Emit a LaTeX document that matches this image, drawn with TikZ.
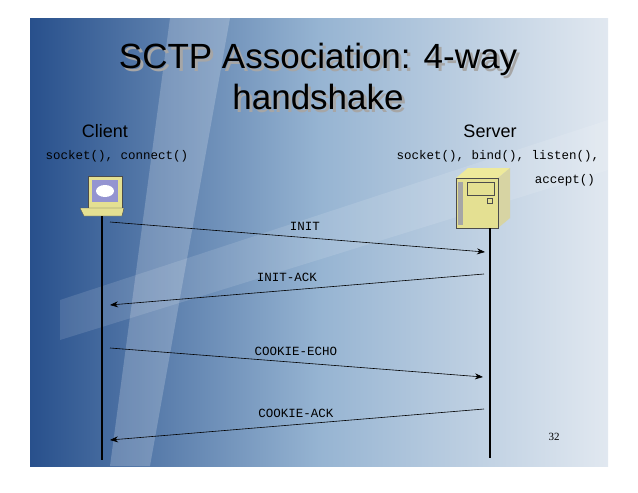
\documentclass[tikz,border=0pt]{standalone}
\usepackage{fontspec}
\setmainfont{Liberation Serif}
\setsansfont{Liberation Sans}
\setmonofont{Liberation Mono}
\usetikzlibrary{positioning, arrows.meta}
\definecolor{slideDark}{RGB}{40,80,140}
\definecolor{slideMid}{RGB}{150,180,210}
\definecolor{slideLight}{RGB}{225,232,240}
\tikzstyle{Msg} = [semithick, -{Stealth[length=8pt, width=6pt]}]
\begin{document}
\begin{tikzpicture}[x=1pt, y=-1pt,
		title/.style = {font=\sffamily\fontsize{35}{41}\selectfont, align=center},
		party/.style = {font=\sffamily\fontsize{18}{20}\selectfont},
		call/.style = {font=\ttfamily\fontsize{12.5}{14}\selectfont},
		lifeline/.style = {line width=1.6pt},
	]
	\useasboundingbox (0,0) rectangle (638,493);
	\fill[white] (0,0) rectangle (638,493);
	% slide background
	\shade[left color=slideDark, right color=slideLight, middle color=slideMid] (30,18) rectangle (608,466);
	\fill[white, opacity=0.2] (170,18) -- (230,18) -- (150,466) -- (110,466) -- cycle;
	\fill[white, opacity=0.12] (60,300) -- (608,120) -- (608,170) -- (60,340) -- cycle;

	\node[title, text=gray!70] (TitleS) at (321,79) {SCTP Association: 4-way\\handshake};
	\node[title] (Title) at (318,76) {SCTP Association: 4-way\\handshake};

	\node[party] (Client) at (105,131) {Client};
	\node[party] (Server) at (490,131) {Server};
	\node[call] (CliCall) at (117,156) {socket(), connect()};
	\node[call] (SrvCall) at (498,156) {socket(), bind(), listen(),};
	\node[call] (SrvAcc) at (565,180) {accept()};

	% client icon
	\fill[gray!40!yellow!60] (88,176) rectangle (122,208);
	\draw[gray!60!black] (88,176) rectangle (122,208);
	\fill[gray!60!blue!60] (92,180) rectangle (118,202);
	\fill[white] (105,191) ellipse (9 and 6);
	\fill[gray!40!yellow!60] (80,208) -- (124,208) -- (122,216) -- (84,216) -- cycle;
	\draw[gray!60!black] (80,208) -- (124,208) -- (122,216) -- (84,216) -- cycle;
	\coordinate (C) at (102,216);
	% server icon
	\fill[gray!30!yellow!50!white] (456,178) -- (468,168) -- (510,168) -- (498,178) -- cycle;
	\fill[gray!60!yellow!60] (498,178) -- (510,168) -- (510,218) -- (498,228) -- cycle;
	\fill[gray!40!yellow!60] (456,178) rectangle (498,228);
	\draw[gray!60!black] (456,178) rectangle (498,228);
	\fill[gray!70] (458,182) rectangle (463,225);
	\draw[gray!60!black] (467,182) rectangle (494,195);
	\draw[gray!60!black] (487,198) rectangle (492,203);
	\coordinate (S) at (490,228);

	\coordinate (Cend) at (102,460);
	\coordinate (Send) at (490,458);
	\draw[lifeline] (C) -- (Cend);
	\draw[lifeline] (S) -- (Send);

	\coordinate (A1) at (110,222); \coordinate (B1) at (485,252);
	\coordinate (A2) at (484,274); \coordinate (B2) at (110,305);
	\coordinate (A3) at (110,348); \coordinate (B3) at (483,377);
	\coordinate (A4) at (484,409); \coordinate (B4) at (110,440);
	\draw[Msg] (A1) -- (B1);
	\draw[Msg] (A2) -- (B2);
	\draw[Msg] (A3) -- (B3);
	\draw[Msg] (A4) -- (B4);
	\node[call] (Init) at (305,226) {INIT};
	\node[call] (InitAck) at (287,277) {INIT-ACK};
	\node[call] (Echo) at (296,351) {COOKIE-ECHO};
	\node[call] (CAck) at (296,413) {COOKIE-ACK};

	\node[font=\fontsize{11}{12}\selectfont] (Num) at (554,437) {32};
\end{tikzpicture}
\end{document}
